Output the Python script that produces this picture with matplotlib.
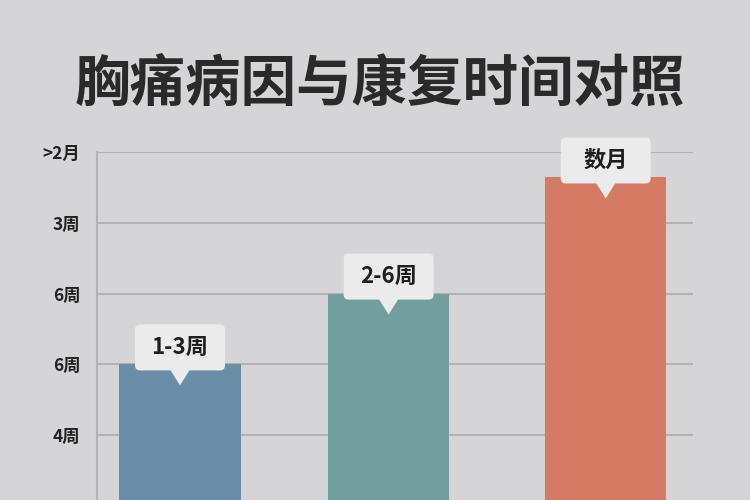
import matplotlib
matplotlib.use('Agg')
import matplotlib.pyplot as plt
from matplotlib.patches import FancyBboxPatch, Polygon
from matplotlib.transforms import ScaledTranslation

plt.rcParams['font.family'] = ['Noto Sans CJK SC', 'DejaVu Sans']

title = '胸痛病因与康复时间对照'
categories = ['1-3周', '2-6周', '数月']
values = [2.0, 3.0, 4.64]
bar_colors = ['#6a8ea8', '#729f9e', '#d57b63']
tick_pos = [1, 2, 3, 4, 5]
tick_labels = ['4周', '6周', '6周', '3周', '>2月']

bg = '#d5d5d7'
fig = plt.figure(figsize=(7.5, 5), dpi=100, facecolor=bg)
# axes runs a little below the bottom edge of the picture, like the reference
ax = fig.add_axes([97 / 750, -6 / 500, 596 / 750, 354 / 500], facecolor=bg)

x = [0, 0.98, 2]
ax.bar(x, values, width=0.57, color=bar_colors, zorder=2)
ax.set_xlim(-0.39, 2.41)
ax.set_ylim(0, 5)
ax.set_yticks(tick_pos)
ax.set_yticklabels(tick_labels, fontsize=12.5, fontweight='bold', color='#222222')
ax.set_xticks([])
ax.yaxis.grid(True, color='#b3b3b5', linewidth=1.5, zorder=0)
ax.tick_params(axis='y', length=0, pad=12)
for s in ['top', 'right', 'bottom']:
    ax.spines[s].set_visible(False)
ax.spines['left'].set_color('#b3b3b5')
ax.spines['left'].set_linewidth(1.5)

# callout boxes above each bar, sized in inches around the bar top
box_c = '#ebebec'
for xi, v, lab in zip(x, values, categories):
    tr = fig.dpi_scale_trans + ScaledTranslation(xi, v, ax.transData)
    box = FancyBboxPatch((-0.43, -0.04), 0.86, 0.42,
                         boxstyle='round,pad=0.02,rounding_size=0.05',
                         facecolor=box_c, edgecolor='none',
                         transform=tr, zorder=4, clip_on=False)
    ax.add_patch(box)
    tri = Polygon([[-0.1, -0.05], [0.1, -0.05], [0, -0.21]], closed=True,
                  facecolor=box_c, edgecolor='none', transform=tr,
                  zorder=4, clip_on=False)
    ax.add_patch(tri)
    ax.text(0, 0.17, lab, transform=tr, ha='center', va='center',
            fontsize=16, fontweight='bold', color='#1e1e1e', zorder=5)

fig.text(0.507, 0.83, title, ha='center', va='center', fontsize=40,
         fontweight='heavy', color='#2a2a2a')

fig.savefig('out.png', dpi=100, facecolor=bg)
